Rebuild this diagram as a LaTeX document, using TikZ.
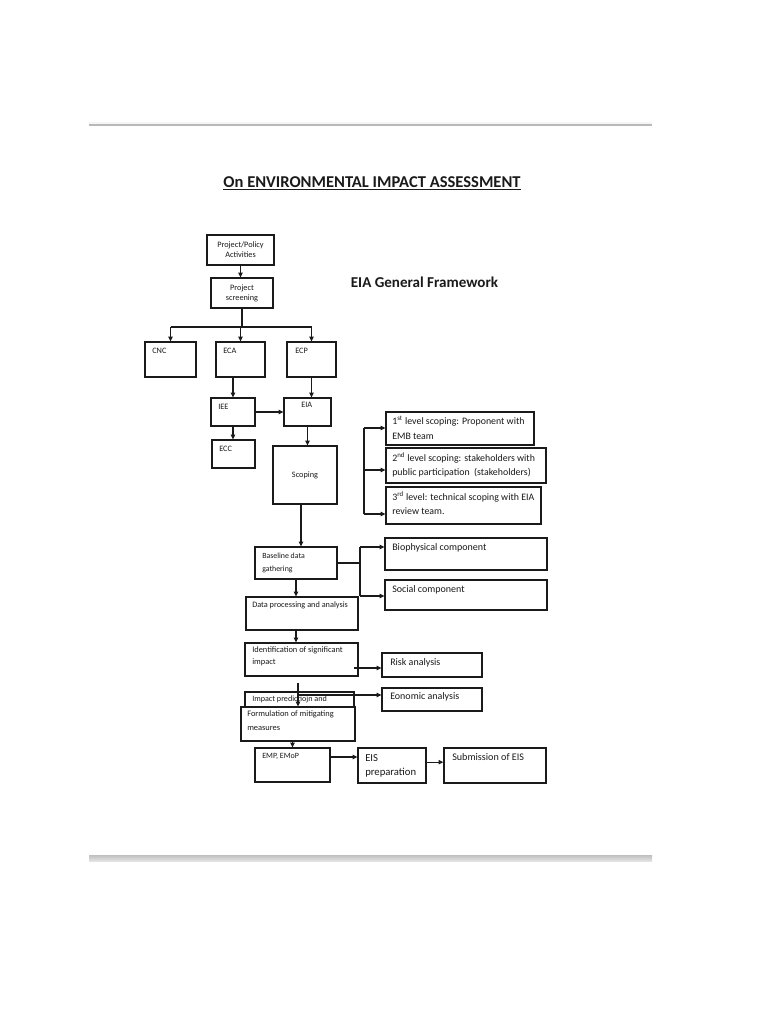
\documentclass[tikz,border=0pt]{standalone}
\usepackage{fontspec}
\setmainfont{Carlito}
\usetikzlibrary{arrows.meta,fit}
\definecolor{ink}{HTML}{1A1A1A}
\begin{document}
\begin{tikzpicture}[x=0.75pt,y=-0.75pt,
 box/.style={draw=ink, line width=0.9pt, inner sep=0pt, fill=white},
 txt/.style={inner sep=0pt, anchor=north west, align=left, text=ink, font=\fontsize{6.2}{9}\selectfont},
 ctxt/.style={inner sep=0pt, align=center, text=ink, font=\fontsize{6.2}{7.5}\selectfont},
 arr/.style={draw=ink, line width=0.8pt, -{Triangle[length=3.5pt,width=3.2pt]}},
 ln/.style={draw=ink, line width=0.8pt}]
\useasboundingbox[fill=white] (0,0) rectangle (768,1024);
% rules
\fill[gray!8] (89,122) rectangle (652,124.3);
\draw[gray!55, line width=1pt] (89,125) -- (652,125);
\shade[top color=gray!50, bottom color=gray!22] (89,855) rectangle (652,861);
% titles
\node[anchor=base, inner sep=0pt, text=ink, font=\fontsize{12.4}{14}\bfseries\selectfont] (title) at (372,187) {On ENVIRONMENTAL IMPACT ASSESSMENT};
\draw[ink, line width=0.9pt] ([yshift=-1.6pt]title.base west) -- ([yshift=-1.6pt]title.base east);
\node[anchor=base, inner sep=0pt, text=ink, font=\fontsize{11.3}{13}\bfseries\selectfont] (fw) at (424.5,287) {EIA General Framework};
% boxes
\node[box, fit={(207,235)(274,265)}] (pp) {};
\node[ctxt] (ppt) at (pp.center) {Project/Policy\\Activities};
\node[box, fit={(211,278)(273,308)}] (ps) {};
\node[ctxt] (pst) at (ps.center) {Project\\screening};
\coordinate (split) at (242,327);
\node[box, fit={(145,342)(196,377)}] (cnc) {};
\node[txt] (cnct) at (152,348) {CNC};
\node[box, fit={(216,342)(265,377)}] (eca) {};
\node[txt] (ecat) at (223,348) {ECA};
\node[box, fit={(287,342)(336,377)}] (ecp) {};
\node[txt] (ecpt) at (295,348) {ECP};
\node[box, fit={(211,398)(255,426)}] (iee) {};
\node[txt] (ieet) at (218,404) {IEE};
\node[box, fit={(284,398)(331,426)}] (eia) {};
\node[txt] (eiat) at (301,402) {EIA};
\node[box, fit={(212,440)(255,468)}] (ecc) {};
\node[txt] (ecct) at (219,446) {ECC};
\node[box, fit={(273,446)(337,504)}] (sc) {};
\node[ctxt] (sct) at (sc.center) {Scoping};
% scoping levels
\node[box, fit={(386,412)(534,445)}] (l1) {};
\node[txt, font=\fontsize{7.4}{11}\selectfont] (l1t) at (392,416) {1\textsuperscript{st} level scoping: Proponent with\\EMB team};
\node[box, fit={(386,448)(546,483)}] (l2) {};
\node[txt, font=\fontsize{7.4}{11}\selectfont] (l2t) at (392,452) {2\textsuperscript{nd} level scoping: stakeholders with\\public participation\ \ (stakeholders)};
\node[box, fit={(386,487)(541,524)}] (l3) {};
\node[txt, font=\fontsize{7.4}{11}\selectfont] (l3t) at (392,491) {3\textsuperscript{rd} level: technical scoping with EIA\\review team.};
% lower chain
\node[box, fit={(255,547)(337,579)}] (bl) {};
\node[txt, font=\fontsize{5.9}{9.75}\selectfont] (blt) at (262,553) {Baseline data\\gathering};
\node[box, fit={(246,597)(358,630)}] (dp) {};
\node[txt, font=\fontsize{6.2}{9}\selectfont] (dpt) at (252,601) {Data processing and analysis};
\node[box, fit={(385,538)(547,570)}] (bio) {};
\node[txt, font=\fontsize{7.5}{10}\selectfont] (biot) at (392,543) {Biophysical component};
\node[box, fit={(385,580)(547,610)}] (soc) {};
\node[txt, font=\fontsize{7.5}{10}\selectfont] (soct) at (392,585) {Social component};
\node[box, fit={(245,643)(358,676)}] (id) {};
\node[txt, font=\fontsize{6.3}{9}\selectfont] (idt) at (252,646) {Identification of significant\\impact};
\node[box, fit={(382,653)(482,677)}] (risk) {};
\node[txt, font=\fontsize{7.5}{10}\selectfont] (riskt) at (390,658) {Risk analysis};
\node[box, fit={(245,692)(354,725)}] (imp) {};
\node[txt, font=\fontsize{6.1}{9}\selectfont] (impt) at (252,696) {Impact predictiojn and};
\node[box, fit={(241,707)(355,741)}] (form) {};
\node[txt, font=\fontsize{6.3}{11}\selectfont] (formt) at (247,710) {Formulation of mitigating\\measures};
\node[box, fit={(382,688)(482,711)}] (eco) {};
\node[txt, font=\fontsize{7.5}{10}\selectfont] (ecot) at (390,692) {Eonomic analysis};
\node[box, fit={(255,748)(330,782)}] (emp) {};
\node[txt, font=\fontsize{6}{9}\selectfont] (empt) at (262,753) {EMP, EMoP};
\node[box, fit={(358,748)(426,783)}] (eis) {};
\node[txt, font=\fontsize{8}{11}\selectfont] (eist) at (365,754) {EIS\\preparation};
\node[box, fit={(444,748)(546,783)}] (sub) {};
\node[txt, font=\fontsize{7.6}{11}\selectfont] (subt) at (452,753) {Submission of EIS};
% connectors
\draw[arr] (pp.south) -- (pp.south |- ps.north);
\draw[ln] (ps.south) -- (ps.south |- split);
\draw[ln] (cnc.north |- split) -- (ecp.north |- split);
\draw[arr] (cnc.north |- split) -- (cnc.north);
\draw[arr] (eca.north |- split) -- (eca.north);
\draw[arr] (ecp.north |- split) -- (ecp.north);
\draw[arr] (eca.south -| iee.north) -- (iee.north);
\draw[arr] (ecp.south) -- (ecp.south |- eia.north);
\draw[arr] (iee) -- (eia);
\draw[arr] (iee.south) -- (iee.south |- ecc.north);
\draw[arr] (eia.south) -- (eia.south |- sc.north);
\draw[arr] ([xshift=-3pt]sc.south) -- ([xshift=-3pt]sc.south |- bl.north);
\coordinate (b1) at (364,428);
\coordinate (b2) at (364,470);
\coordinate (b3) at (364,514);
\draw[ln] (b1) -- (b3);
\draw[arr] (b1) -- (b1 -| l1.west);
\draw[arr] (b2) -- (b2 -| l2.west);
\draw[arr] (b3) -- (b3 -| l3.west);
\draw[arr] (bl.south) -- (bl.south |- dp.north);
\coordinate (j1) at (360,547);
\coordinate (j2) at (360,596);
\draw[ln] (bl.east) -- (bl.east -| j1);
\draw[ln] (j1) -- (j2);
\draw[arr] (j1) -- (j1 -| bio.west);
\draw[arr] (j2) -- (j2 -| soc.west);
\draw[arr] (bl.south |- dp.south) -- (bl.south |- id.north);
\coordinate (r0) at (354,668);
\draw[arr] (r0) -- (r0 -| risk.west);
\coordinate (v0) at (298,683);
\draw[arr] (v0) -- (v0 |- form.north);
\coordinate (e0) at (298,695);
\draw[arr] (e0) -- (e0 -| eco.west);
\draw[arr] (emp.north |- form.south) -- (emp.north);
\draw[arr] ([yshift=6pt]emp.east) -- ([yshift=6pt]emp.east -| eis.west);
\draw[arr] ([yshift=2.5pt]eis.east) -- ([yshift=2.5pt]eis.east -| sub.west);
\end{tikzpicture}
\end{document}
